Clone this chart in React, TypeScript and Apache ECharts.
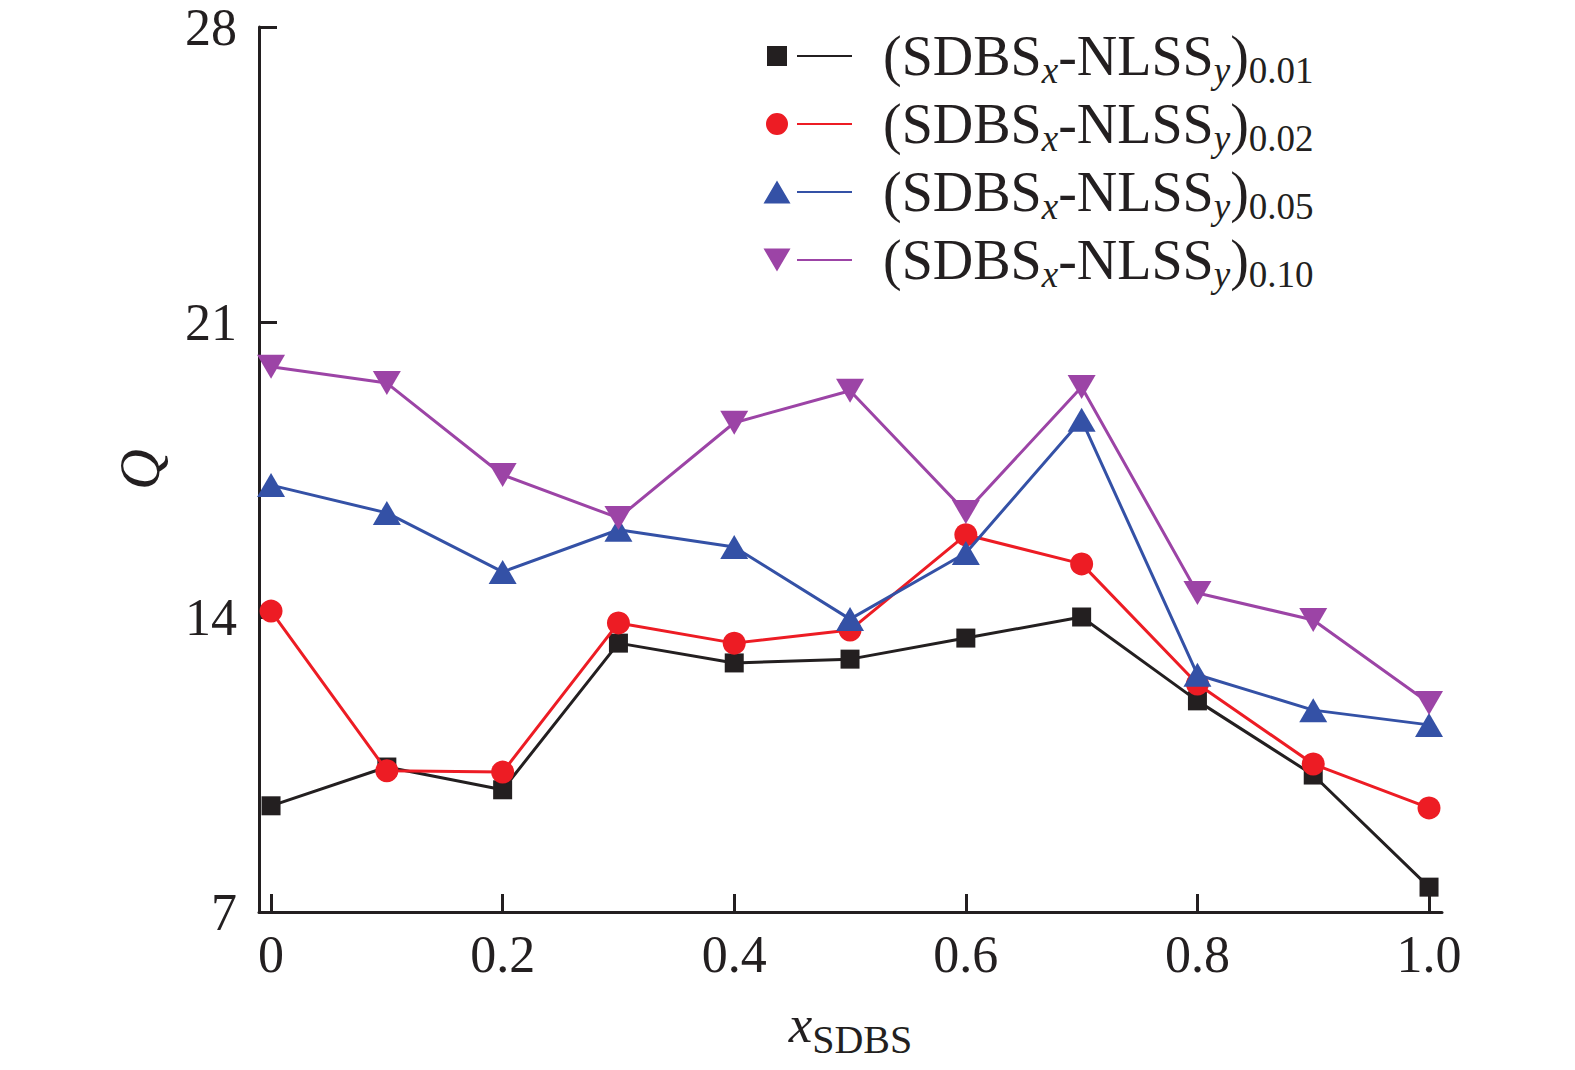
import React, { useEffect, useRef } from "react";
import * as echarts from "echarts";

const xValues = [0, 0.1, 0.2, 0.3, 0.4, 0.5, 0.6, 0.7, 0.8, 0.9, 1.0];
const q001 = [9.52, 10.44, 9.9, 13.38, 12.91, 13.0, 13.5, 14.0, 12.01, 10.25, 7.59];
const q002 = [14.14, 10.35, 10.32, 13.86, 13.38, 13.69, 15.95, 15.26, 12.41, 10.51, 9.47];
const q005 = [17.13, 16.47, 15.07, 16.07, 15.66, 13.95, 15.52, 18.68, 12.63, 11.79, 11.44];
const q010 = [19.94, 19.55, 17.37, 16.35, 18.61, 19.37, 16.49, 19.46, 14.57, 13.93, 11.96];

const seriesNames = ["0.01", "0.02", "0.05", "0.10"];
const xTickValues = [0, 0.2, 0.4, 0.6, 0.8, 1.0];
const xTickLabels = ["0", "0.2", "0.4", "0.6", "0.8", "1.0"];
const yTicks = [7, 14, 21, 28];

const FONT = "'Liberation Serif', 'Times New Roman', serif";
const INK = "#231f20";
const colors = ["#231f20", "#ed1c24", "#3451a6", "#9c44a6"];

const PAD = "M0 0M89 24";
const LINE = "M34 11H89V13H34Z";
const iconPaths = [
  PAD + "M4 2H24V22H4Z" + LINE,
  PAD + "M3 12A11 11 0 1 0 25 12A11 11 0 1 0 3 12Z" + LINE,
  PAD + "M0.5 23.5L14 0.5L27.5 23.5Z" + LINE,
  PAD + "M0.5 0.5L27.5 0.5L14 23.5Z" + LINE,
];

export default function App() {
  const ref = useRef<HTMLDivElement>(null);
  useEffect(() => {
    if (!ref.current) return;
    const chart = echarts.init(ref.current, null, { renderer: "svg" });
    const toPairs = (arr: number[]) => arr.map((v, i) => [xValues[i], v]);
    const symbols = [
      { symbol: "rect", symbolSize: 19, symbolRotate: 0 },
      { symbol: "circle", symbolSize: 23, symbolRotate: 0 },
      { symbol: "triangle", symbolSize: [28, 24], symbolRotate: 0 },
      { symbol: "triangle", symbolSize: [28, 24], symbolRotate: 180 },
    ];
    const datasets = [q001, q002, q005, q010];
    const L = 60;
    const main = { fontFamily: FONT, fontSize: 56, lineHeight: L, verticalAlign: "middle", color: INK };
    const subI = { fontFamily: FONT, fontSize: 37, fontStyle: "italic", lineHeight: L, height: 31, verticalAlign: "bottom", color: INK };
    const subN = { fontFamily: FONT, fontSize: 37, lineHeight: L, height: 31, verticalAlign: "bottom", color: INK };
    chart.setOption({
      animation: false,
      backgroundColor: "#ffffff",
      grid: { left: 259, right: 133, top: 27, bottom: 158, containLabel: false },
      legend: {
        orient: "vertical",
        left: 763,
        top: 28,
        padding: 0,
        itemWidth: 89,
        itemHeight: 24,
        itemGap: 7,
        symbolKeepAspect: true,
        data: seriesNames.map((n, i) => ({ name: n, icon: "path://" + iconPaths[i] })),
        itemStyle: { borderWidth: 0 },
        formatter: (name: string) =>
          `{sp|}{m|(SDBS}{si|x}{m|-NLSS}{si|y}{m|)}{sn|${name}}`,
        textStyle: {
          fontFamily: FONT,
          color: INK,
          rich: {
            sp: { width: 26, lineHeight: L, fontFamily: FONT, fontSize: 56, verticalAlign: "middle" },
            m: main,
            si: subI,
            sn: subN,
          },
        },
      },
      xAxis: {
        type: "value",
        min: -0.0104,
        max: 1.0112,
        name: "{xi|x}{xs|SDBS}",
        nameLocation: "middle",
        nameGap: 82,
        nameTextStyle: {
          rich: {
            xi: { fontFamily: FONT, fontSize: 53, fontStyle: "italic", lineHeight: 60, verticalAlign: "middle", color: INK },
            xs: { fontFamily: FONT, fontSize: 40, lineHeight: 60, height: 30, verticalAlign: "bottom", color: INK },
          },
        },
        axisLine: { show: true, onZero: false, lineStyle: { color: INK, width: 3 } },
        axisTick: { show: true, inside: true, length: 18, lineStyle: { color: INK, width: 3 }, customValues: xTickValues },
        axisLabel: {
          show: true,
          customValues: xTickValues,
          margin: 16,
          fontFamily: FONT,
          fontSize: 52,
          color: INK,
          formatter: (v: number) => {
            const idx = xTickValues.findIndex((t) => Math.abs(t - v) < 1e-6);
            return idx >= 0 ? xTickLabels[idx] : "";
          },
        },
        splitLine: { show: false },
      },
      yAxis: {
        type: "value",
        min: yTicks[0],
        max: yTicks[yTicks.length - 1],
        interval: 7,
        name: "Q",
        nameLocation: "middle",
        nameRotate: 90,
        nameGap: 91,
        nameTextStyle: { fontFamily: FONT, fontSize: 56, fontStyle: "italic", color: INK },
        axisLine: { show: true, onZero: false, lineStyle: { color: INK, width: 3 } },
        axisTick: { show: true, inside: true, length: 18, lineStyle: { color: INK, width: 3 } },
        axisLabel: { margin: 22, fontFamily: FONT, fontSize: 52, color: INK },
        splitLine: { show: false },
      },
      series: datasets.map((d, i) => ({
        name: seriesNames[i],
        type: "line",
        data: toPairs(d),
        symbol: symbols[i].symbol,
        symbolSize: symbols[i].symbolSize,
        symbolRotate: symbols[i].symbolRotate,
        showAllSymbol: true,
        lineStyle: { color: colors[i], width: 3 },
        itemStyle: { color: colors[i], borderWidth: 0 },
        emphasis: { disabled: true },
        z: 2 + i,
      })),
    });
    return () => chart.dispose();
  }, []);
  return (
    <div
      ref={ref}
      style={{ position: "fixed", left: 0, top: 0, width: 1575, height: 1070, background: "#fff" }}
    />
  );
}
